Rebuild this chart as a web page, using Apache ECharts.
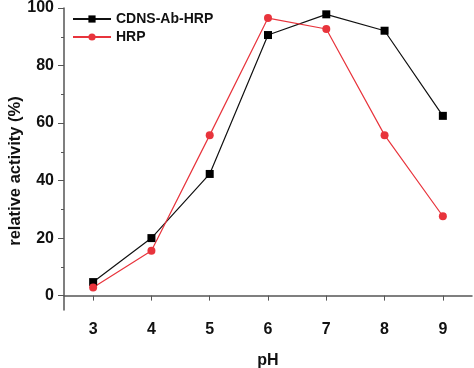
<!DOCTYPE html>
<html><head><meta charset="utf-8">
<script src="https://cdn.jsdelivr.net/npm/echarts@6/dist/echarts.min.js"></script>
<style>html,body{margin:0;padding:0;background:#fff}#c{width:474px;height:368px}</style>
</head><body><div id="c"></div>
<script>
const pH = [3, 4, 5, 6, 7, 8, 9];
const cdnsAbHrp = [4.7, 20.0, 42.3, 90.6, 97.8, 92.1, 62.5];
const hrp = [2.8, 15.6, 55.8, 96.5, 92.7, 55.8, 27.6];
const seriesNames = ['CDNS-Ab-HRP', 'HRP'];
const yTicks = [0, 20, 40, 60, 80, 100];
const yMinorTicks = [10, 30, 50, 70, 90];
const xTitle = 'pH';
const yTitle = 'relative activity (%)';

const font = 'Liberation Sans, Arial, sans-serif';
const chart = echarts.init(document.getElementById('c'), null, {renderer: 'canvas'});
const toPairs = (arr) => pH.map((x, i) => [x, arr[i]]);
chart.setOption({
  animation: false,
  grid: {left: 64, right: 2, top: 8, bottom: 58, containLabel: false, outerBoundsMode: 'none'},
  legend: {
    orient: 'vertical', left: 67, top: 7, itemWidth: 38, itemHeight: 9, itemGap: 4,
    textStyle: {fontFamily: font, fontWeight: 'bold', fontSize: 14, color: '#111'},
    data: seriesNames
  },
  graphic: [{
    type: 'text', x: 15, y: 171, rotation: Math.PI / 2,
    style: {text: yTitle, fontFamily: font, fontWeight: 'bold', fontSize: 16.5, fill: '#111',
      align: 'center', verticalAlign: 'middle'}
  }],
  xAxis: {
    type: 'value', min: 2.5, max: 9.5, interval: 1,
    name: xTitle, nameLocation: 'middle', nameGap: 43,
    nameTextStyle: {fontFamily: font, fontWeight: 'bold', fontSize: 16, color: '#111'},
    axisLine: {lineStyle: {color: '#555', width: 1.5}},
    axisTick: {show: true, inside: false, length: 5, lineStyle: {color: '#555'},
      customValues: pH},
    axisLabel: {fontFamily: font, fontWeight: 'bold', fontSize: 16, color: '#111', margin: 12,
      customValues: pH},
    splitLine: {show: false}
  },
  yAxis: [{
    type: 'value', min: -5, max: 100,
    axisLine: {show: true, lineStyle: {color: '#555', width: 1.5}},
    axisTick: {show: true, inside: false, length: 6, lineStyle: {color: '#555'},
      customValues: yTicks},
    axisLabel: {fontFamily: font, fontWeight: 'bold', fontSize: 16, color: '#111', margin: 10,
      customValues: yTicks},
    splitLine: {show: false}
  }, {
    type: 'value', min: -5, max: 100, position: 'left',
    axisLine: {show: false},
    axisTick: {show: true, inside: false, length: 3, lineStyle: {color: '#555'},
      customValues: yMinorTicks},
    axisLabel: {show: false},
    splitLine: {show: false}
  }],
  series: [
    {name: seriesNames[0], type: 'line', data: toPairs(cdnsAbHrp), symbol: 'rect', symbolSize: 8,
      itemStyle: {color: '#000'}, lineStyle: {color: '#111', width: 1.2}},
    {name: seriesNames[1], type: 'line', data: toPairs(hrp), symbol: 'circle', symbolSize: 8,
      itemStyle: {color: '#e8343c'}, lineStyle: {color: '#e8343c', width: 1.2}}
  ]
});
</script></body></html>
